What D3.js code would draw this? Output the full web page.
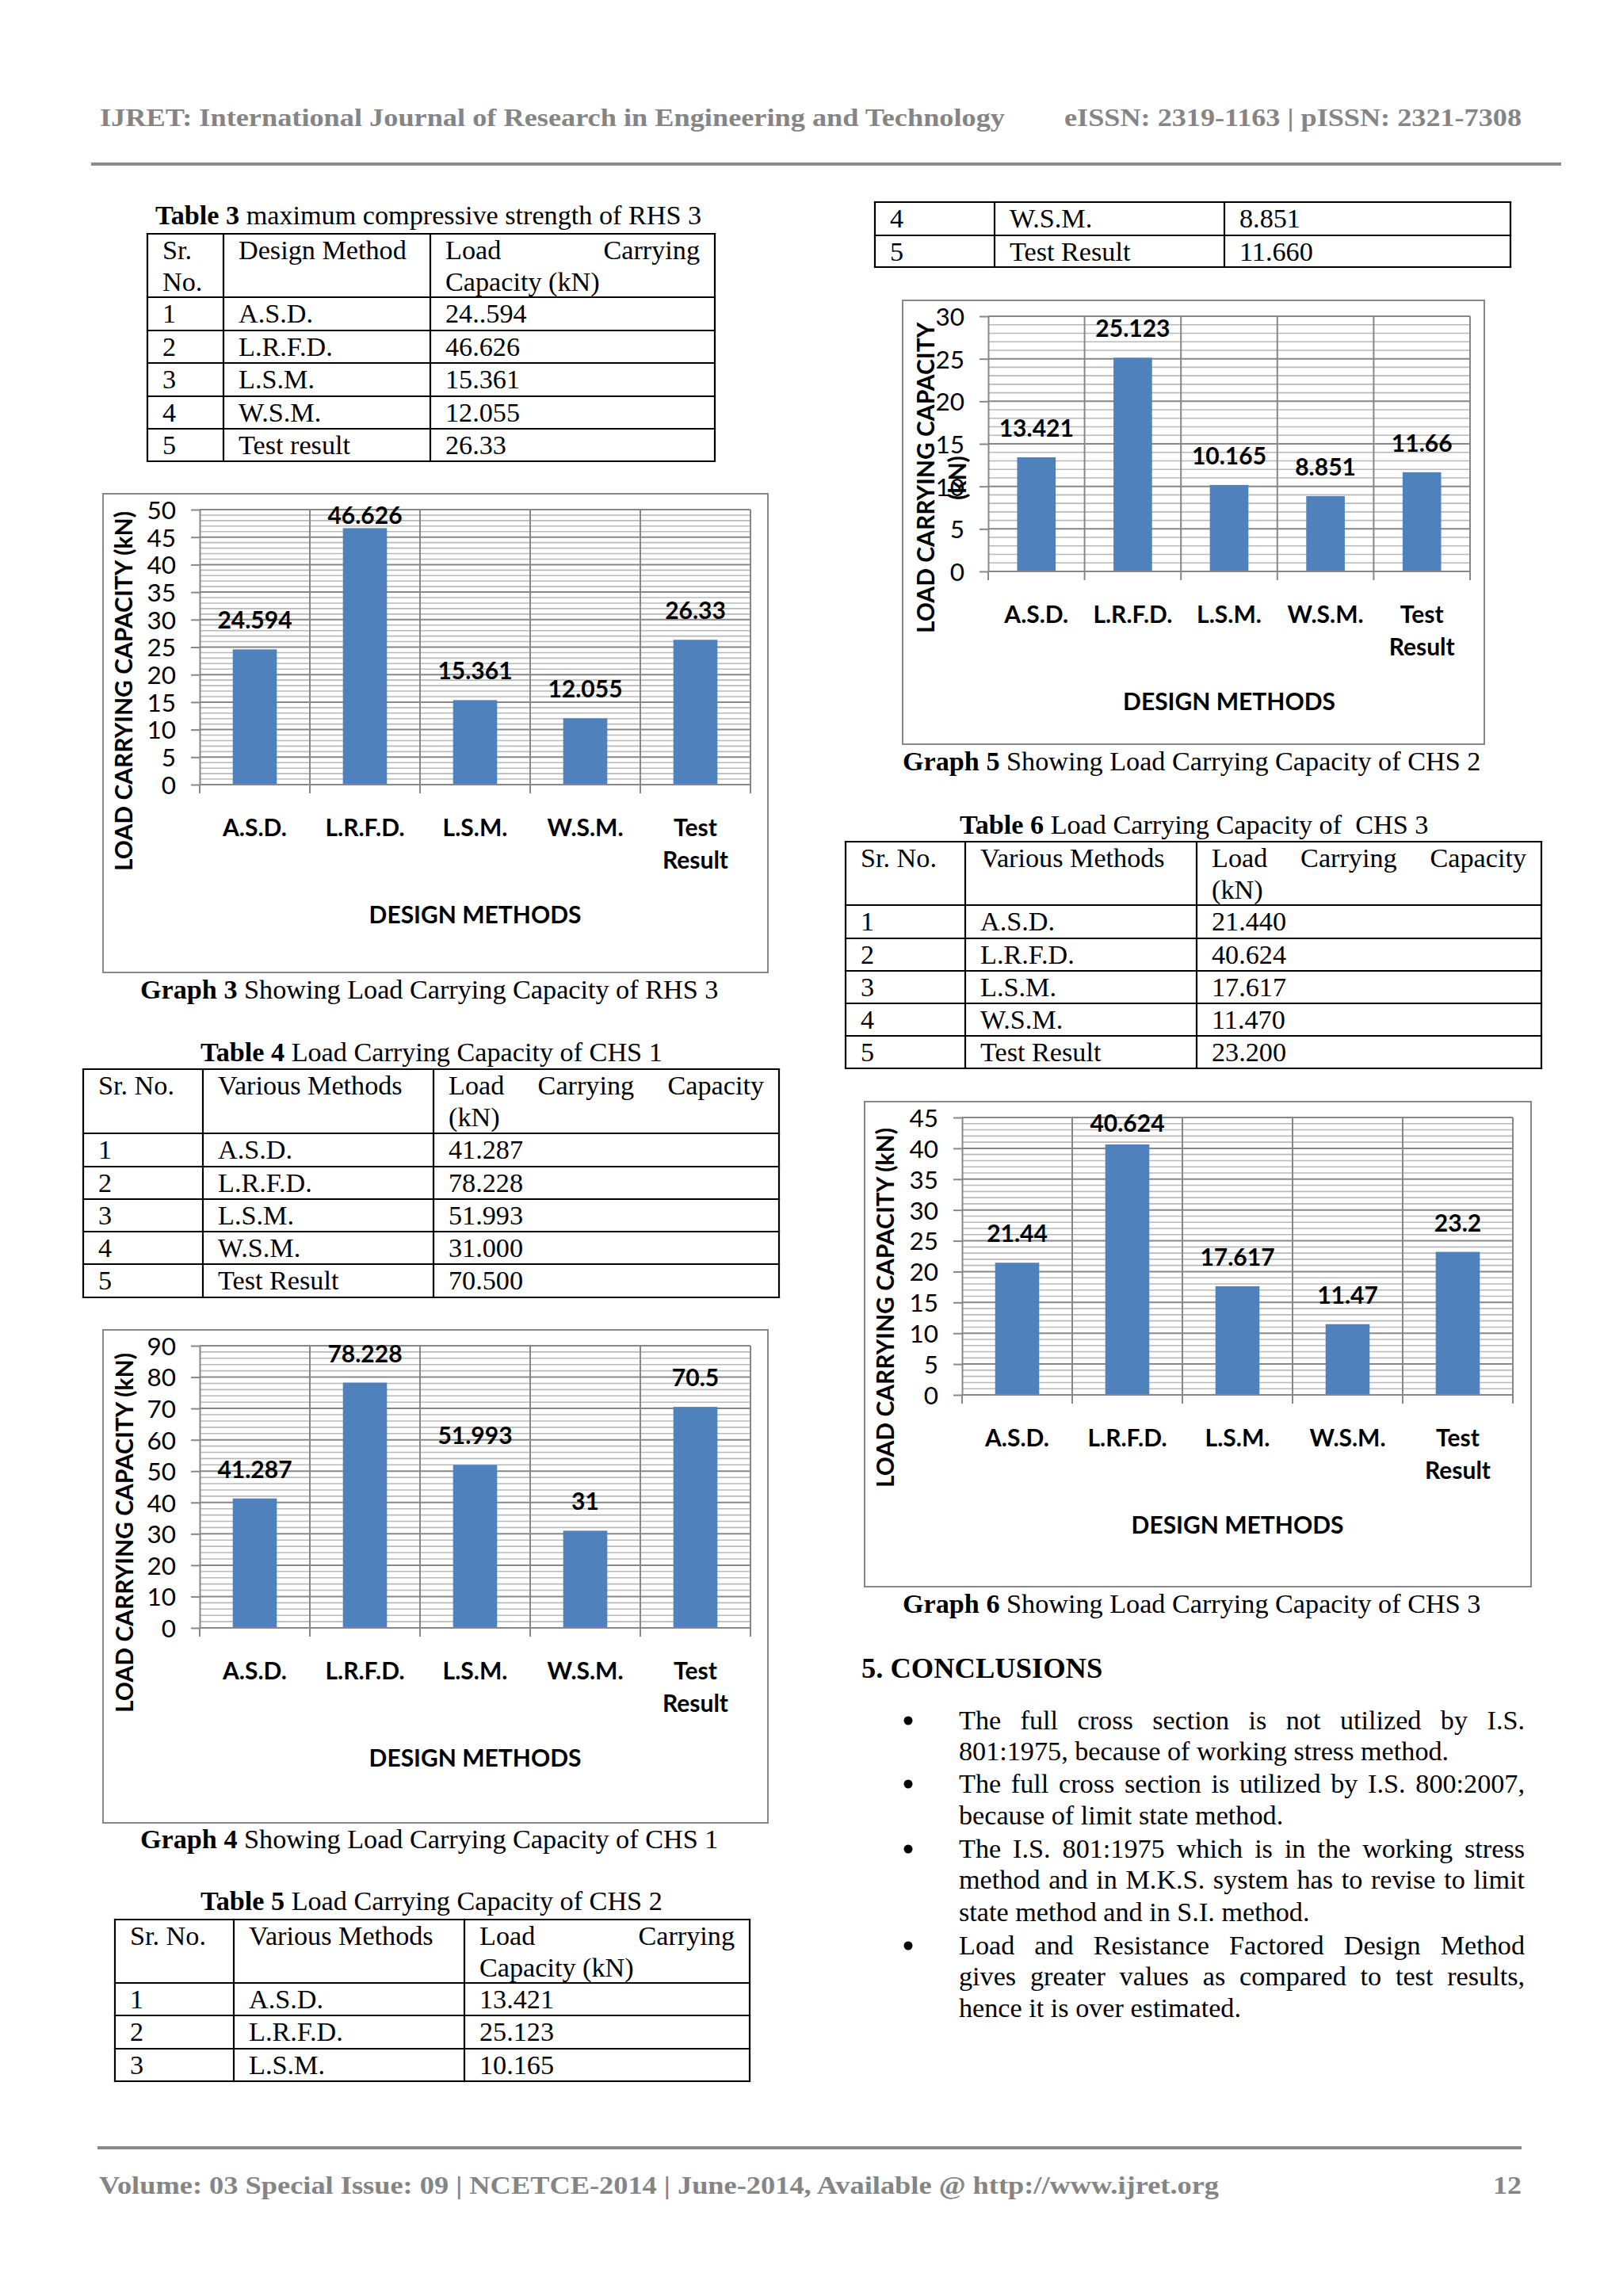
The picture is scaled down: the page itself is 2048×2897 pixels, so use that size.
<!DOCTYPE html>
<html><head><meta charset="utf-8">
<script src="https://cdn.jsdelivr.net/npm/d3@7"></script>
<style>
html,body{margin:0;padding:0;background:#fff;}
svg{display:block;}
</style></head><body>
<svg id="page" width="2048" height="2897"></svg>
<script>
// ---------------- DATA ----------------
const categories = ["A.S.D.", "L.R.F.D.", "L.S.M.", "W.S.M.", "Test Result"];
const rhs3Values = [24.594, 46.626, 15.361, 12.055, 26.33];
const chs1Values = [41.287, 78.228, 51.993, 31, 70.5];
const chs2Values = [13.421, 25.123, 10.165, 8.851, 11.66];
const chs3Values = [21.44, 40.624, 17.617, 11.47, 23.2];
const rhs3Ticks = [0, 5, 10, 15, 20, 25, 30, 35, 40, 45, 50];
const chs1Ticks = [0, 10, 20, 30, 40, 50, 60, 70, 80, 90];
const chs2Ticks = [0, 5, 10, 15, 20, 25, 30];
const chs3Ticks = [0, 5, 10, 15, 20, 25, 30, 35, 40, 45];

const srNos = ["1", "2", "3", "4", "5"];
const table3Methods = ["A.S.D.", "L.R.F.D.", "L.S.M.", "W.S.M.", "Test result"];
const table3Values = ["24..594", "46.626", "15.361", "12.055", "26.33"];
const tableMethods = ["A.S.D.", "L.R.F.D.", "L.S.M.", "W.S.M.", "Test Result"];
const table4Values = ["41.287", "78.228", "51.993", "31.000", "70.500"];
const table5Values = ["13.421", "25.123", "10.165", "8.851", "11.660"];
const table6Values = ["21.440", "40.624", "17.617", "11.470", "23.200"];

const conclusionLines = [
  ["The full cross section is not utilized by I.S.", true, true],
  ["801:1975, because of working stress method.", false, false],
  ["The full cross section is utilized by I.S. 800:2007,", true, true],
  ["because of limit state method.", false, false],
  ["The I.S. 801:1975 which is in the working stress", true, true],
  ["method and in M.K.S. system has to revise to limit", false, true],
  ["state method and in S.I. method.", false, false],
  ["Load and Resistance Factored Design Method", true, true],
  ["gives greater values as compared to test results,", false, true],
  ["hence it is over estimated.", false, false]
];

// ---------------- HELPERS ----------------
const SERIF = "'Liberation Serif','Times New Roman',serif";
const SANS = "Lato,'Open Sans',sans-serif";
const BODY = 34.2;
const svg = d3.select("#page");
svg.append("rect").attr("width", 2048).attr("height", 2897).attr("fill", "#fff");

function addText(parent, s, x, y, o = {}) {
  return parent.append("text").attr("x", x).attr("y", y)
    .attr("font-family", o.family || SERIF)
    .attr("font-size", o.size || BODY)
    .attr("font-weight", o.weight || "normal")
    .attr("text-anchor", o.anchor || "start")
    .attr("fill", o.fill || "#000")
    .text(s);
}
function textWidth(s, o = {}) {
  const t = addText(svg, s, 0, -200, o);
  const w = t.node().getComputedTextLength();
  t.remove();
  return w;
}
function justifyLine(parent, s, x0, x1, y, o = {}) {
  const words = s.split(" ");
  if (words.length < 2) { addText(parent, s, x0, y, o); return; }
  const widths = words.map(w => textWidth(w, o));
  const gap = (x1 - x0 - d3.sum(widths)) / (words.length - 1);
  let x = x0;
  words.forEach((w, i) => { addText(parent, w, x, y, o); x += widths[i] + gap; });
}
function caption(parent, boldPart, rest, x, y, size = BODY) {
  const t = parent.append("text").attr("x", x).attr("y", y)
    .attr("font-family", SERIF).attr("font-size", size).attr("fill", "#000")
    .style("white-space", "pre");
  t.append("tspan").attr("font-weight", "bold").text(boldPart);
  t.append("tspan").text(" " + rest);
}

// ---------------- PAGE HEADER / FOOTER ----------------
const GRAY = "#858585";
addText(svg, "IJRET: International Journal of Research in Engineering and Technology", 126, 159,
  { weight: "bold", size: 32, fill: GRAY }).attr("textLength", 1142).attr("lengthAdjust", "spacingAndGlyphs");
addText(svg, "eISSN: 2319-1163 | pISSN: 2321-7308", 1343, 159,
  { weight: "bold", size: 32, fill: GRAY }).attr("textLength", 577).attr("lengthAdjust", "spacingAndGlyphs");
svg.append("line").attr("x1", 115).attr("x2", 1970).attr("y1", 207).attr("y2", 207)
  .attr("stroke", "#8a8a8a").attr("stroke-width", 4);
svg.append("line").attr("x1", 123).attr("x2", 1920).attr("y1", 2710).attr("y2", 2710)
  .attr("stroke", "#8a8a8a").attr("stroke-width", 4);
addText(svg, "Volume: 03 Special Issue: 09 | NCETCE-2014 | June-2014, Available @ http://www.ijret.org", 125, 2768,
  { weight: "bold", size: 32, fill: GRAY }).attr("textLength", 1413).attr("lengthAdjust", "spacingAndGlyphs");
addText(svg, "12", 1920, 2768, { weight: "bold", size: 32, fill: GRAY, anchor: "end" })
  .attr("textLength", 36).attr("lengthAdjust", "spacingAndGlyphs");

// ---------------- TABLES ----------------
function drawTable(t) {
  const g = svg.append("g");
  const [c0, c1, c2, c3] = t.cols;
  const top = t.rows[0], bottom = t.rows[t.rows.length - 1];
  t.rows.forEach(y => g.append("line").attr("x1", c0).attr("x2", c3).attr("y1", y).attr("y2", y));
  t.cols.forEach(x => g.append("line").attr("x1", x).attr("x2", x).attr("y1", top).attr("y2", bottom));
  g.selectAll("line").attr("stroke", "#000").attr("stroke-width", 2.2).attr("stroke-linecap", "square");
  const pad = 19;
  let r = 0;
  if (t.header) {
    const y0 = t.rows[0];
    t.header.forEach((cell, ci) => {
      const xl = t.cols[ci] + pad, xr = t.cols[ci + 1] - pad;
      cell.forEach((line, li) => {
        const yy = y0 + 32 + li * 40;
        if (ci === 2 && li === 0 && cell.length > 1) justifyLine(g, line, xl, xr, yy);
        else addText(g, line, xl, yy);
      });
    });
    r = 1;
  }
  t.data.forEach((row, i) => {
    const yy = t.rows[r + i] + 32;
    row.forEach((s, ci) => addText(g, s, t.cols[ci] + pad, yy));
  });
}
function rowsOf(nums, methods, vals) { return nums.map((n, i) => [n, methods[i], vals[i]]); }

// Table 3
caption(svg, "Table 3", "maximum compressive strength of RHS 3", 196, 283);
drawTable({
  cols: [186, 282, 543, 902], rows: [295, 375, 417, 458, 500, 541, 582],
  header: [["Sr.", "No."], ["Design Method"], ["Load Carrying", "Capacity (kN)"]],
  data: rowsOf(srNos, table3Methods, table3Values)
});
// Table 4
caption(svg, "Table 4", "Load Carrying Capacity of CHS 1", 253, 1339);
drawTable({
  cols: [105, 256, 547, 983], rows: [1349, 1430, 1472, 1513, 1554, 1595, 1637],
  header: [["Sr. No."], ["Various Methods"], ["Load Carrying Capacity", "(kN)"]],
  data: rowsOf(srNos, tableMethods, table4Values)
});
// Table 5 (split across columns)
caption(svg, "Table 5", "Load Carrying Capacity of CHS 2", 253, 2410);
drawTable({
  cols: [145, 295, 586, 946], rows: [2422, 2502, 2543, 2585, 2626],
  header: [["Sr. No."], ["Various Methods"], ["Load Carrying", "Capacity (kN)"]],
  data: rowsOf(srNos.slice(0, 3), tableMethods.slice(0, 3), table5Values.slice(0, 3))
});
drawTable({
  cols: [1104, 1255, 1545, 1906], rows: [255, 297, 337],
  data: rowsOf(srNos.slice(3), tableMethods.slice(3), table5Values.slice(3))
});
// Table 6
caption(svg, "Table 6", "Load Carrying Capacity of  CHS 3", 1211, 1052);
drawTable({
  cols: [1067, 1218, 1510, 1945], rows: [1062, 1142, 1184, 1225, 1266, 1307, 1348],
  header: [["Sr. No."], ["Various Methods"], ["Load Carrying Capacity", "(kN)"]],
  data: rowsOf(srNos, tableMethods, table6Values)
});

// ---------------- CHARTS ----------------
function drawChart(c) {
  const g = svg.append("g");
  const [bx0, by0, bx1, by1] = c.box;
  const [px0, px1, pyTop, pyZero] = c.plot;
  g.append("rect").attr("x", bx0).attr("y", by0).attr("width", bx1 - bx0).attr("height", by1 - by0)
    .attr("fill", "#fff").attr("stroke", "#878787").attr("stroke-width", 2);

  const x = d3.scaleBand().domain(categories).range([px0, px1]).paddingInner(0.6).paddingOuter(0.3);
  const ymax = d3.max(c.ticks);
  const y = d3.scaleLinear().domain([0, ymax]).range([pyZero, pyTop]);
  const step = x.step();

  // minor gridlines
  const minor = d3.range(c.minorStep, ymax, c.minorStep).filter(v => !c.ticks.includes(v));
  g.append("g").selectAll("line").data(minor).join("line")
    .attr("x1", px0).attr("x2", px1).attr("y1", d => y(d)).attr("y2", d => y(d))
    .attr("stroke", "#b9b9b9").attr("stroke-width", 1.6);
  // major gridlines
  g.append("g").selectAll("line").data(c.ticks.filter(v => v > 0)).join("line")
    .attr("x1", px0).attr("x2", px1).attr("y1", d => y(d)).attr("y2", d => y(d))
    .attr("stroke", "#878787").attr("stroke-width", 2);
  // vertical category gridlines + ticks below axis
  const bounds = categories.map(cat => x(cat) - x.paddingOuter() * step).concat([px1]);
  g.append("g").selectAll("line").data(bounds.slice(1)).join("line")
    .attr("x1", d => d).attr("x2", d => d).attr("y1", pyTop).attr("y2", pyZero + 11)
    .attr("stroke", "#878787").attr("stroke-width", 2);
  g.append("line").attr("x1", px0).attr("x2", px0).attr("y1", pyZero).attr("y2", pyZero + 11)
    .attr("stroke", "#878787").attr("stroke-width", 2);

  // bars
  g.append("g").selectAll("rect").data(c.values).join("rect")
    .attr("x", (d, i) => x(categories[i])).attr("width", x.bandwidth())
    .attr("y", d => y(d)).attr("height", d => pyZero - y(d))
    .attr("fill", "#4f81bd");

  // x axis line
  g.append("line").attr("x1", px0).attr("x2", px1).attr("y1", pyZero).attr("y2", pyZero)
    .attr("stroke", "#878787").attr("stroke-width", 2);

  // y axis
  const ya = g.append("g").attr("transform", `translate(${px0},0)`)
    .call(d3.axisLeft(y).tickValues(c.ticks).tickSize(11).tickSizeOuter(0).tickPadding(19).tickFormat(d => String(d)));
  ya.select(".domain").attr("stroke", "#878787").attr("stroke-width", 2);
  ya.selectAll(".tick line").attr("stroke", "#878787").attr("stroke-width", 2);
  ya.selectAll(".tick text").attr("font-family", SANS).attr("font-size", 31.5).attr("fill", "#000").attr("dy", "0.36em");

  // category labels
  categories.forEach(cat => {
    const cx = x(cat) + x.bandwidth() / 2;
    cat.split(" ").forEach((part, li) => {
      addText(g, part, cx, pyZero + 65 + li * 41, { family: SANS, size: 30, weight: "bold", anchor: "middle" });
    });
  });
  // data labels
  g.append("g").selectAll("text").data(c.values).join("text")
    .attr("x", (d, i) => x(categories[i]) + x.bandwidth() / 2)
    .attr("y", d => Math.max(y(d) - 26, by0 + 38))
    .attr("text-anchor", "middle").attr("font-family", SANS).attr("font-size", 30)
    .attr("font-weight", "bold").attr("fill", "#000")
    .text(d => String(d));
  // x title
  addText(g, "DESIGN METHODS", (px0 + px1) / 2, pyZero + 175, { family: SANS, size: 30, weight: "bold", anchor: "middle" });
  // y title
  c.titleLines.forEach((line, i) => {
    g.append("text").attr("transform", `translate(${c.titleX[i]},${c.titleCY}) rotate(-90)`)
      .attr("text-anchor", "middle").attr("dy", "0.36em")
      .attr("font-family", SANS).attr("font-size", 30).attr("font-weight", "bold").attr("fill", "#000")
      .text(line);
  });
}

drawChart({
  box: [130, 623, 969, 1227], plot: [252, 947, 643, 990],
  values: rhs3Values, ticks: rhs3Ticks, minorStep: 1,
  titleLines: ["LOAD CARRYING CAPACITY (kN)"], titleX: [156], titleCY: 872
});
caption(svg, "Graph 3", "Showing Load Carrying Capacity of RHS 3", 177, 1260);

drawChart({
  box: [130, 1678, 969, 2300], plot: [252, 947, 1698, 2054],
  values: chs1Values, ticks: chs1Ticks, minorStep: 2,
  titleLines: ["LOAD CARRYING CAPACITY (kN)"], titleX: [157], titleCY: 1934
});
caption(svg, "Graph 4", "Showing Load Carrying Capacity of CHS 1", 177, 2332);

drawChart({
  box: [1139, 379, 1873, 939], plot: [1247, 1855, 399, 721],
  values: chs2Values, ticks: chs2Ticks, minorStep: 1,
  titleLines: ["LOAD CARRYING CAPACITY", "(kN)"], titleX: [1168, 1208], titleCY: 603
});
caption(svg, "Graph 5", "Showing Load Carrying Capacity of CHS 2", 1139, 972);

drawChart({
  box: [1091, 1390, 1932, 2002], plot: [1214, 1909, 1410, 1760],
  values: chs3Values, ticks: chs3Ticks, minorStep: 1,
  titleLines: ["LOAD CARRYING CAPACITY (kN)"], titleX: [1117], titleCY: 1650
});
caption(svg, "Graph 6", "Showing Load Carrying Capacity of CHS 3", 1139, 2035);

// ---------------- CONCLUSIONS ----------------
addText(svg, "5. CONCLUSIONS", 1087, 2117, { weight: "bold", size: 36.5 });
const conclBaselines = [2182, 2221, 2262, 2302, 2344, 2383, 2424, 2466, 2505, 2545];
conclusionLines.forEach(([s, bullet, just], i) => {
  const yy = conclBaselines[i];
  if (bullet) svg.append("circle").attr("cx", 1146).attr("cy", yy - 11).attr("r", 5.5).attr("fill", "#000");
  if (just) justifyLine(svg, s, 1210, 1924, yy);
  else addText(svg, s, 1210, yy);
});
</script>
</body></html>
